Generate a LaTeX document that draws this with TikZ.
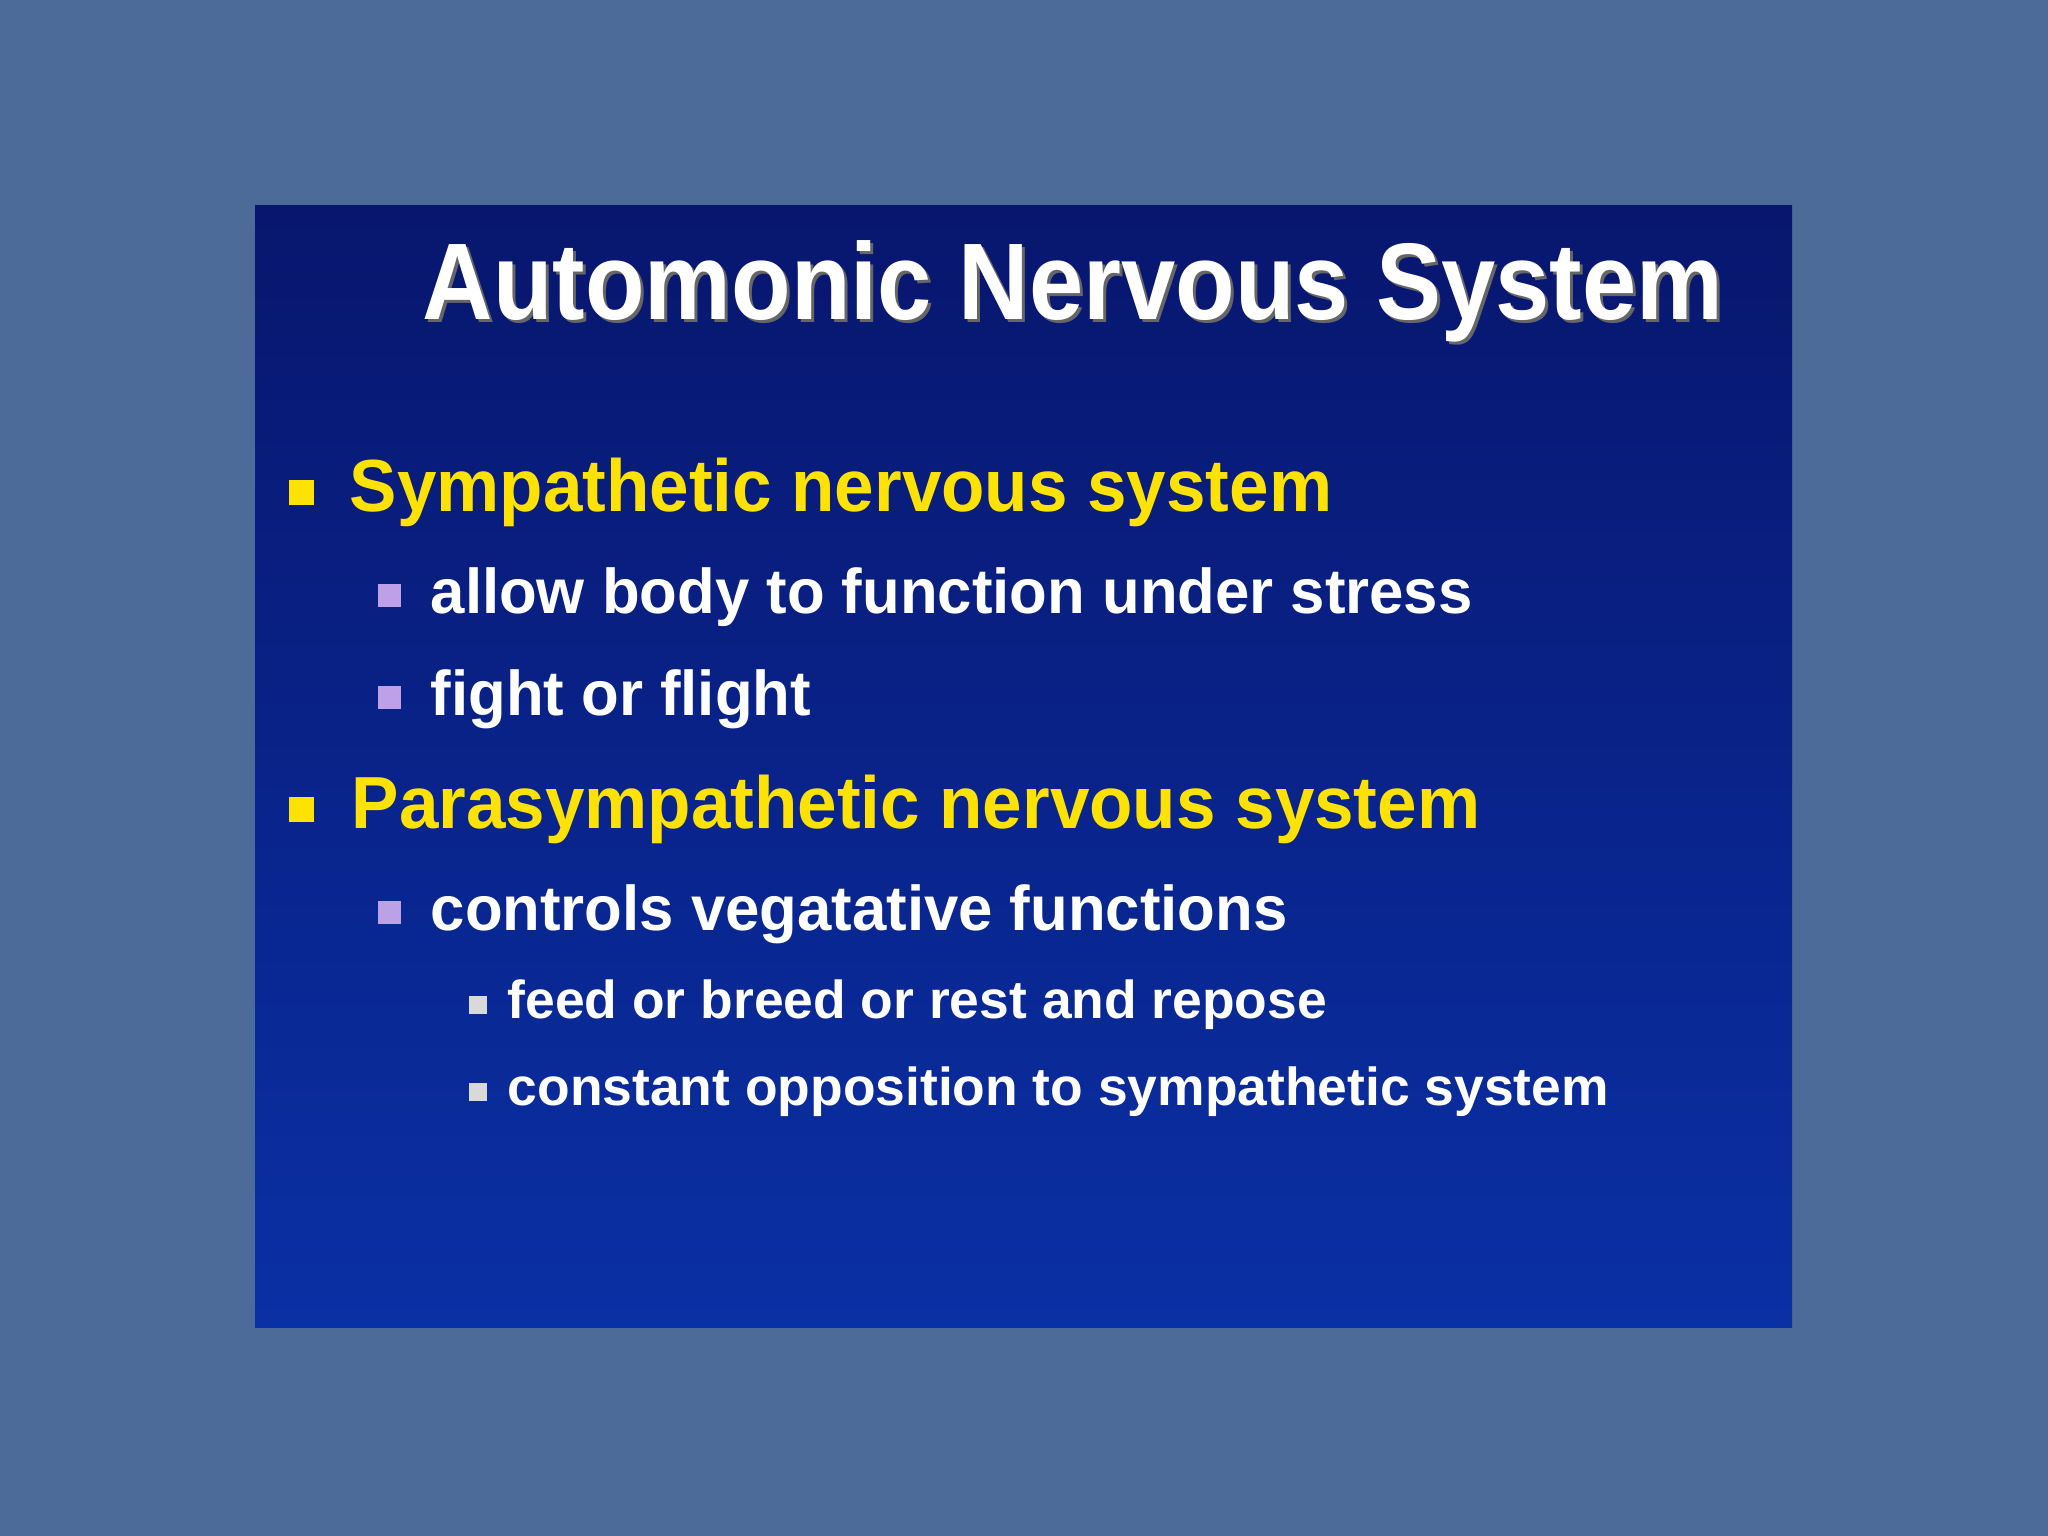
\documentclass[tikz,border=0pt]{standalone}
\usepackage{fontspec}
\setmainfont{Liberation Sans}
\newfontfamily\titlefont[FakeStretch=0.895]{Liberation Sans}
\newfontfamily\onefont[FakeStretch=0.962]{Liberation Sans}
\newfontfamily\twofont[FakeStretch=0.975]{Liberation Sans}
\begin{document}
\begin{tikzpicture}[
  txt/.style={anchor=base west, inner sep=0pt},
  lone/.style={txt, text=yellow!85!orange, font=\onefont\fontsize{21}{24}\selectfont\bfseries},
  ltwo/.style={txt, text=white, font=\twofont\fontsize{18}{21}\selectfont\bfseries},
  lthree/.style={txt, text=white, font=\fontsize{15.2}{17}\selectfont\bfseries},
  bone/.style={fill=yellow!85!orange, minimum size=0.25cm, inner sep=0pt},
  btwo/.style={fill={rgb,255:red,190;green,160;blue,230}, minimum size=0.23cm, inner sep=0pt},
  bthree/.style={fill=white!85!black, minimum size=0.18cm, inner sep=0pt}]
\useasboundingbox (0,0) rectangle (20.48,15.36);
\fill[color={rgb,255:red,76;green,107;blue,152}] (0,0) rectangle (20.48,15.36);
\shade[top color={rgb,255:red,8;green,22;blue,110}, bottom color={rgb,255:red,10;green,48;blue,165}] (2.55,2.08) rectangle (17.92,13.30);
\node[txt, text=black!60, font=\titlefont\fontsize{31}{36}\selectfont\bfseries] at (4.25,12.13) {Automonic Nervous System};
\node[txt, text=white, font=\titlefont\fontsize{31}{36}\selectfont\bfseries] (title) at (4.22,12.16) {Automonic Nervous System};

\node[bone] (b1) at (3.01,10.43) {};
\node[lone] (t1) at (3.49,10.24) {Sympathetic nervous system};
\node[btwo] (b2) at (3.89,9.40) {};
\node[ltwo] (t2) at (4.30,9.22) {allow body to function under stress};
\node[btwo] (b3) at (3.89,8.38) {};
\node[ltwo] (t3) at (4.30,8.20) {fight or flight};
\node[bone] (b4) at (3.01,7.26) {};
\node[lone] (t4) at (3.51,7.07) {Parasympathetic nervous system};
\node[btwo] (b5) at (3.89,6.23) {};
\node[ltwo] (t5) at (4.30,6.05) {controls vegatative functions};
\node[bthree] (b6) at (4.78,5.31) {};
\node[lthree] (t6) at (5.07,5.17) {feed or breed or rest and repose};
\node[bthree] (b7) at (4.78,4.44) {};
\node[lthree] (t7) at (5.07,4.30) {constant opposition to sympathetic system};
\end{tikzpicture}
\end{document}
